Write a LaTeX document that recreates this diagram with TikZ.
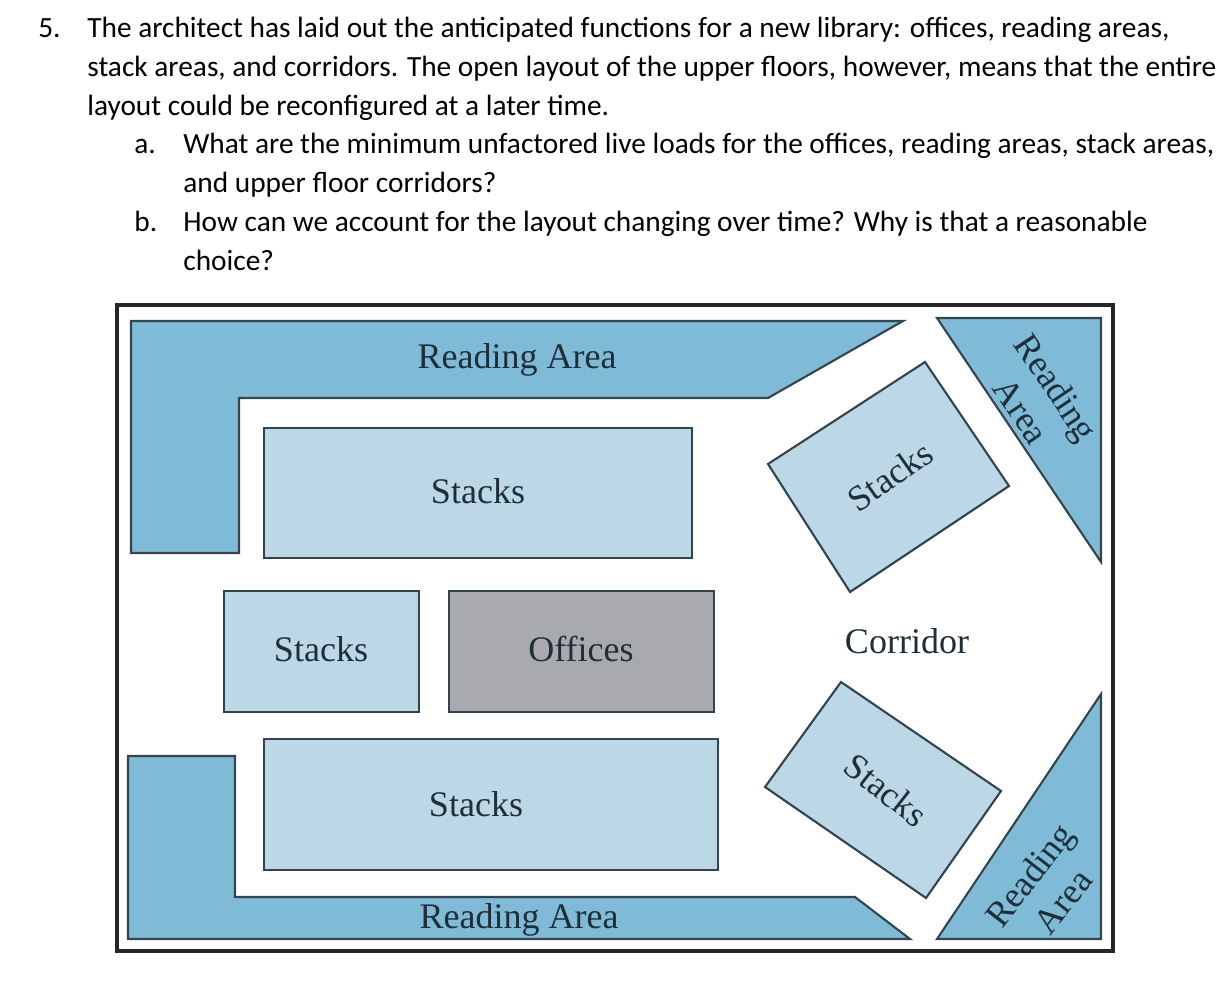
\documentclass[tikz,border=0pt]{standalone}
\usepackage{fontspec}
\setmainfont{Carlito}
\newfontfamily\labelfont{Liberation Serif}
\definecolor{readblue}{HTML}{7FBBD6}
\definecolor{stackblue}{HTML}{BCD7E5}
\definecolor{officegrey}{HTML}{A9AAAD}
\definecolor{edgegrey}{HTML}{34444F}
\definecolor{labelgrey}{HTML}{1F2F3A}
\tikzset{
  question/.style={anchor=base west,inner sep=0pt,align=left,font=\fontsize{16.7}{22.2}\selectfont},
  room/.style={draw=edgegrey,line width=1.2pt,line join=miter},
  reading/.style={room,fill=readblue},
  stacks/.style={room,fill=stackblue},
  offices/.style={room,fill=officegrey},
  roomlabel/.style={inner sep=0pt,align=center,text=labelgrey,font=\labelfont\fontsize{20.5}{24}\selectfont},
}
\begin{document}
\begin{tikzpicture}[x=0.02cm,y=-0.02cm]
  \def\xq{87}
  \def\xsub{183}
  \useasboundingbox (0,0) rectangle (1226,996);
  % multi-line nodes sit on their last line
  \node[question] (num) at (38,38) {5.};
  \node[question] (intro) at (\xq,116) {The architect has laid out the anticipated functions for a new library: offices, reading areas,\\
    stack areas, and corridors. The open layout of the upper floors, however, means that the entire\\
    layout could be reconfigured at a later time.};
  \node[question] (numa) at (134,154) {a.};
  \node[question] (parta) at (\xsub,193) {What are the minimum unfactored live loads for the offices, reading areas, stack areas,\\
    and upper floor corridors?};
  \node[question] (numb) at (134,232) {b.};
  \node[question] (partb) at (\xsub,271) {How can we account for the layout changing over time? Why is that a reasonable\\
    choice?};
  %
  \draw[line width=2pt,draw=black!85] (117,305) rectangle (1113,951);
  %
  \draw[reading] (131,321) -- (903,321) -- (768,398) -- (239,398) -- (239,553) -- (131,553) -- cycle;
  \draw[reading] (937,318) -- (1101,318) -- (1101,562) -- cycle;
  \draw[reading] (128,756) -- (235,756) -- (235,897) -- (855,897) -- (910,939) -- (128,939) -- cycle;
  \draw[reading] (937,939) -- (1101,694) -- (1101,939) -- cycle;
  %
  \draw[stacks] (264,428) rectangle (692,558);
  \draw[stacks] (224,591) rectangle (419,712);
  \draw[offices] (449,591) rectangle (714,712);
  \draw[stacks] (264,739) rectangle (718,870);
  \draw[stacks] (925,362) -- (1009,486) -- (850,592) -- (768,464) -- cycle;
  \draw[stacks] (841,682) -- (1001,791) -- (926,898) -- (765,787) -- cycle;
  %
  \node[roomlabel] (readtop) at (517,360) {Reading Area};
  \node[roomlabel] (readbot) at (519,920) {Reading Area};
  \node[roomlabel,rotate=-56] (readne) at (1039,399) {Reading\\Area};
  \node[roomlabel,rotate=52] (readse) at (1046,888) {Reading\\Area};
  \node[roomlabel] (stackstop) at (478,491) {Stacks};
  \node[roomlabel] (stacksleft) at (321,649) {Stacks};
  \node[roomlabel] (office) at (581,649) {Offices};
  \node[roomlabel] (stacksbot) at (476,804) {Stacks};
  \node[roomlabel,rotate=35] (stacksne) at (890,476) {Stacks};
  \node[roomlabel,rotate=-38] (stacksse) at (886,790) {Stacks};
  \node[roomlabel] (corridor) at (907,641) {Corridor};
\end{tikzpicture}
\end{document}
